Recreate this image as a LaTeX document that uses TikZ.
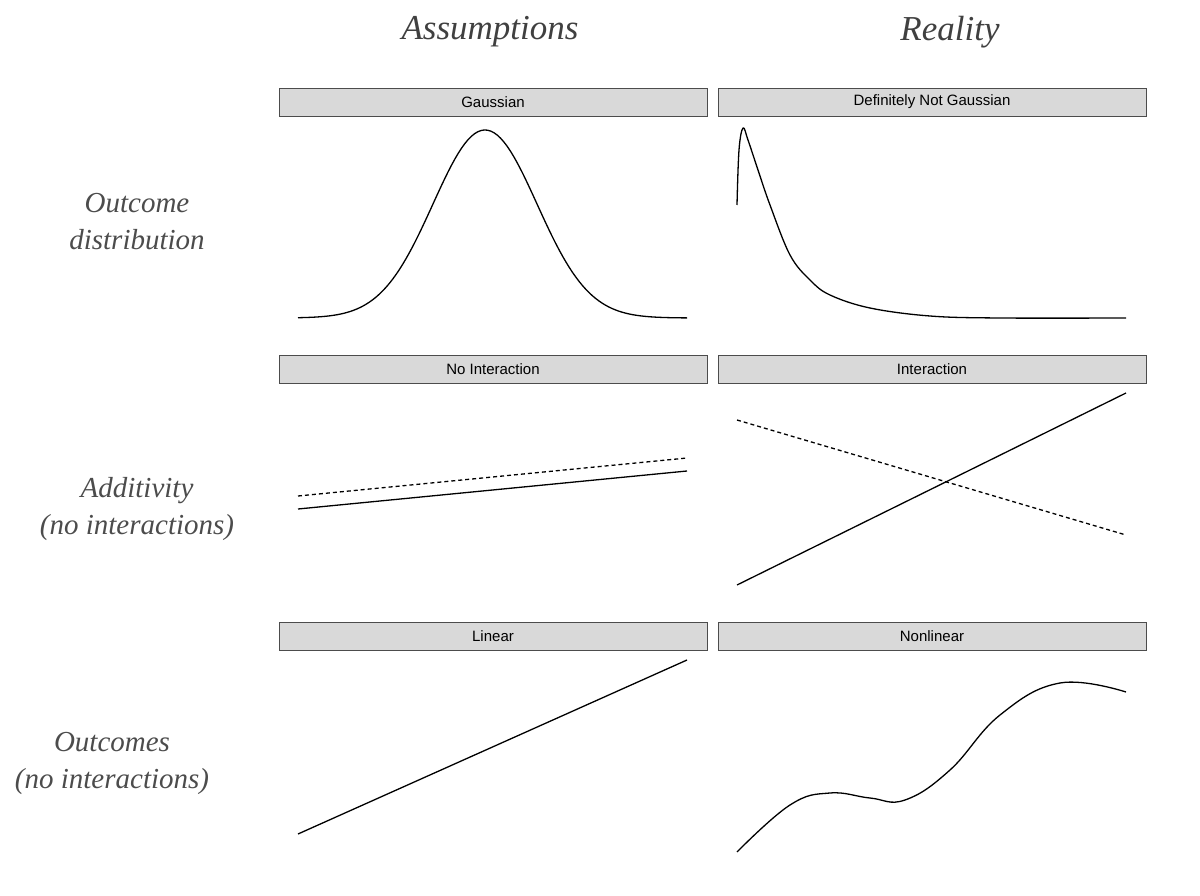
\documentclass[tikz,border=0pt]{standalone}
\usepackage{fontspec}
\setmainfont{Liberation Serif}
\newfontfamily\stripfont{Liberation Sans}
\begin{document}
\begin{tikzpicture}[x=1pt,y=-1pt,
  strip/.style={draw=black!70,fill=black!15,line width=0.8pt,minimum width=428pt,minimum height=28pt,font=\stripfont\fontsize{15}{15}\selectfont,inner sep=0pt},
  coltitle/.style={font=\itshape\fontsize{35}{35}\selectfont,text=black!75},
  rowlab/.style={font=\itshape\fontsize{29}{37}\selectfont,text=black!70,align=center},
  curve/.style={line width=1.3pt,line join=round},
  dcurve/.style={curve,dash pattern=on 4pt off 3pt}]
\useasboundingbox (0,0) rectangle (1200,896);
\node[coltitle] (t1) at (490,32) {Assumptions};
\node[coltitle] (t2) at (950,32) {Reality};
\node[strip] (s11) at (493,102) {Gaussian};
\node[strip] (s12) at (932,102) {Definitely Not Gaussian};
\node[strip] (s21) at (493,369) {No Interaction};
\node[strip] (s22) at (932,369) {Interaction};
\node[strip] (s31) at (493,636) {Linear};
\node[strip] (s32) at (932,636) {Nonlinear};
\node[rowlab] (r1) at (137,222) {Outcome\\distribution};
\node[rowlab] (r2) at (137,509) {Additivity\\(no interactions)};
\node[rowlab] (r3) at (112,763) {Outcomes\\(no interactions)};
% Gaussian
\draw[curve] plot[domain=298:687,samples=120] (\x,{318-188*exp(-((\x-485)/52)^2/2)});
% skewed
\draw[curve] plot[smooth,tension=0.6] coordinates {(737,205) (739,150) (743,128) (748,140) (758,170) (770,205) (790,255) (810,280) (830,295) (870,308) (930,316) (1000,318) (1126,318)};
% additivity
\draw[dcurve] (298,496) -- (687,458);
\draw[curve] (298,509) -- (687,471);
\draw[dcurve] (737,420) -- (1126,535);
\draw[curve] (737,585) -- (1126,393);
% linear
\draw[curve] (298,834) -- (687,660);
\draw[curve] plot[smooth,tension=0.7] coordinates {(737,852) (790,805) (830,793) (870,798) (905,800) (950,770) (1000,715) (1060,683) (1126,692)};
\end{tikzpicture}
\end{document}
